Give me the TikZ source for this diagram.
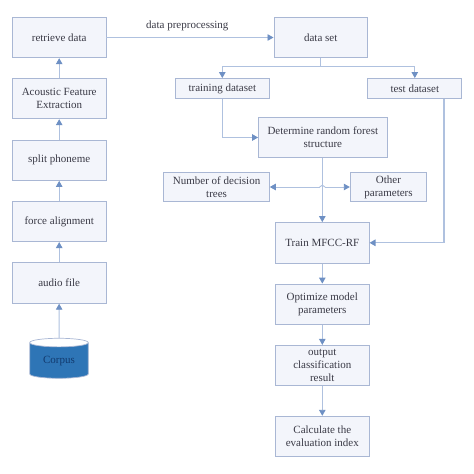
\documentclass[tikz,border=0pt]{standalone}
\usepackage{fontspec}
\setmainfont{Liberation Serif}
\usetikzlibrary{arrows.meta,shapes.geometric,calc}
\definecolor{boxfill}{HTML}{F3F5FB}
\definecolor{boxline}{HTML}{A9B7D4}
\definecolor{conn}{HTML}{AFC1DF}
\definecolor{tip}{HTML}{6E90C4}
\definecolor{txt}{HTML}{3A3A46}
\definecolor{corpusfill}{HTML}{2E75B6}
\definecolor{corpustxt}{HTML}{123A6E}
\tikzset{
  x=1pt,y=-1pt,
  box/.style={draw=boxline,line width=0.9pt,fill=boxfill,text=txt,align=center,
    inner sep=0pt,font=\fontsize{11}{12.8}\selectfont},
  conn/.style={draw=conn,line width=0.9pt},
  arrow/.style={conn,-{Triangle[length=6pt,width=6.5pt,color=tip]}},
  thickconn/.style={arrow,line width=1.3pt},
  lefthalf/.style={box,minimum width=93.5pt,minimum height=40.5pt},
  righthalf/.style={box,minimum width=93.5pt,minimum height=40.5pt},
  slim/.style={box,minimum width=94pt,minimum height=20pt},
}
\begin{document}
\begin{tikzpicture}
\useasboundingbox[fill=white] (0,0) rectangle (474,474);
% left column
\node[lefthalf] (ret) at (59.2,37.5) {retrieve data};
\node[lefthalf] (ac) at (59.2,98.5) {Acoustic Feature\\Extraction};
\node[lefthalf] (sp) at (59.2,160.2) {split phoneme};
\node[lefthalf] (fa) at (59.2,221.4) {force alignment};
\node[lefthalf] (au) at (59.2,283) {audio file};
\node[cylinder,shape border rotate=90,aspect=0.27,draw=boxline,line width=0.7pt,
  cylinder uses custom fill,cylinder end fill=white,cylinder body fill=corpusfill,
  minimum width=58.5pt,minimum height=40pt,inner sep=0pt,text=corpustxt,
  font=\fontsize{11}{12.8}\selectfont] (co) at (59,360.6) {\raisebox{-2pt}{Corpus}};
% right part
\node[righthalf] (ds) at (320.7,37.5) {data set};
\node[slim] (tr) at (222.3,88.5) {training dataset};
\node[slim] (te) at (414.8,88.5) {test dataset};
\node[box,minimum width=128.5pt,minimum height=40pt] (det) at (322.8,137.5) {Determine random forest\\structure};
\node[box,minimum width=105.5pt,minimum height=29pt] (num) at (216.6,187) {Number of decision\\trees};
\node[box,minimum width=76.5pt,minimum height=29pt] (oth) at (388.5,187) {Other\\parameters};
\node[righthalf] (mf) at (322.3,242.8) {Train MFCC-RF};
\node[righthalf] (op) at (322.3,304.3) {Optimize model\\parameters};
\node[righthalf] (ou) at (322.3,365.6) {output\\classification\\result};
\node[righthalf] (ca) at (322.3,436.5) {Calculate the\\evaluation index};
\node[text=txt,inner sep=0pt,font=\fontsize{11}{12.8}\selectfont] (dp) at (187.3,25.5) {data preprocessing};
% connectors left
\draw[arrow] (co) -- (au);
\draw[arrow] (au) -- (fa);
\draw[arrow] (fa) -- (sp);
\draw[arrow] (sp) -- (ac);
\draw[arrow] (ac) -- (ret);
\draw[arrow] (ret) -- (ds);
% dataset split
\coordinate (sj) at (320.7,66);
\draw[conn] (ds) -- (sj);
\draw[arrow] (sj) -| (tr);
\draw[arrow] (sj) -| (te);
\draw[arrow] (tr) |- (det);
% decision options
\coordinate (jl) at (319.6,187);
\coordinate (jr) at (325,187);
\draw[arrow] (jl) -- (num);
\draw[arrow] (jr) -- (oth);
\draw[conn] (jl) .. controls (321,184.6) and (323.6,184.6) .. (jr);
\draw[arrow] (mf.north |- det.south) -- (mf);
% test to train
\coordinate (tt) at (444,98.5);
\draw[thickconn] (tt) |- (mf);
% lower chain
\draw[arrow] (mf) -- (op);
\draw[arrow] (op) -- (ou);
\draw[arrow] (ou) -- (ca);
\end{tikzpicture}
\end{document}
